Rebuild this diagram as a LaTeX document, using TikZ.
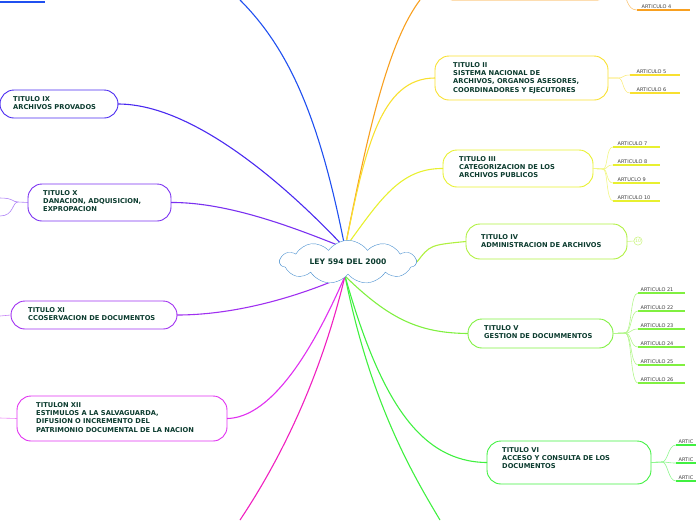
\documentclass[tikz,border=0pt]{standalone}
\usepackage{fontspec}
\setmainfont{DejaVu Sans}
\usetikzlibrary{shapes.symbols,calc}
\definecolor{txt}{HTML}{0B3B2E}
\definecolor{cB}{HTML}{2050F0}
\definecolor{cO}{HTML}{F8A020}
\definecolor{cY}{HTML}{F8E030}
\definecolor{cYG}{HTML}{E8F030}
\definecolor{cLG}{HTML}{B0F040}
\definecolor{cG}{HTML}{80F040}
\definecolor{cGG}{HTML}{40F040}
\definecolor{cIX}{HTML}{4A2AF0}
\definecolor{cX}{HTML}{7A30F0}
\definecolor{cXI}{HTML}{A030F0}
\definecolor{cXII}{HTML}{E030F0}
\definecolor{cM}{HTML}{F020C0}
\definecolor{cloudc}{HTML}{4A90D0}
\begin{document}
\begin{tikzpicture}[x=1pt,y=-1pt,
  tit/.style={font=\bfseries\fontsize{6.7}{8.4}\selectfont,text=txt,align=left,anchor=north west,inner sep=0pt},
  art/.style={font=\fontsize{5}{5.5}\selectfont,text=black!75,anchor=south west,inner sep=1.5pt},
  ul/.style={draw=#1,line width=1.2pt},
  br/.style={draw=#1,line width=1.1pt},
  sb/.style={draw=#1!60,line width=0.6pt},
  cl/.style={cloud,cloud puffs=11,cloud puff arc=110,aspect=3.8,draw=cloudc,fill=white,minimum width=136pt,minimum height=38pt,inner sep=0pt,font=\bfseries\fontsize{7.6}{9}\selectfont,text=txt}]
\useasboundingbox (0,0) rectangle (696,520);
\node[cl] (c) at (348,262) {};
\newcommand{\tbox}[6]{%
  \draw[draw=#2,line width=0.9pt,rounded corners=14pt] (#3,#4) rectangle (#5,#6);
  \coordinate (#1L) at (#3,{(#4+#6)/2}); \coordinate (#1R) at (#5,{(#4+#6)/2});}
\tbox{t1}{cO}{440}{-30}{610}{0}
\tbox{t2}{cY}{435}{56}{608}{100}
\tbox{t3}{cYG}{443}{150}{593}{187}
\tbox{t4}{cLG}{466}{224}{627}{259}
\tbox{t5}{cG}{468}{319}{613}{348}
\tbox{t6}{cGG}{487}{441}{651}{484}
\tbox{t9}{cIX}{0}{90}{118}{118}
\tbox{t10}{cX}{28}{184}{171}{221}
\tbox{t11}{cXI}{11}{301}{177}{329}
\tbox{t12}{cXII}{17}{396}{227}{441}
\node[tit] (n2) at (453,62) {TITULO II\\SISTEMA NACIONAL DE\\ARCHIVOS, ORGANOS ASESORES,\\COORDINADORES Y EJECUTORES};
\node[tit] (n3) at (459,156) {TITULO III\\CATEGORIZACION DE LOS\\ARCHIVOS PUBLICOS};
\node[tit] (n4) at (481,234) {TITULO IV\\ADMINISTRACION DE ARCHIVOS};
\node[tit] (n5) at (484,325) {TITULO V\\GESTION DE DOCUMMENTOS};
\node[tit] (n6) at (502,447) {TITULO VI\\ACCESO Y CONSULTA DE LOS\\DOCUMENTOS};
\node[tit] (n9) at (13,96) {TITULO IX\\ARCHIVOS PROVADOS};
\node[tit] (n10) at (43,190) {TITULO X\\DANACION, ADQUISICION,\\EXPROPACION};
\node[tit] (n11) at (28,307) {TITULO XI\\CCOSERVACION DE DOCUMENTOS};
\node[tit] (n12) at (36,402) {TITULON XII\\ESTIMULOS A LA SALVAGUARDA,\\DIFUSION O INCREMENTO DEL\\PATRIMONIO DOCUMENTAL DE LA NACION};
\coordinate (cc) at (345,248);
\coordinate (cb) at (345,276);
\coordinate (eB) at (240,0); \coordinate (eO) at (420,0);
\coordinate (eG) at (440,520); \coordinate (eM) at (240,520);
\draw[br=cB] (cc) .. controls (320,120) and (290,50) .. (eB);
\draw[br=cO] (cc) .. controls (370,120) and (390,40) .. (eO);
\draw[br=cY] (cc) .. controls (365,150) and (380,78) .. (t2L);
\draw[br=cYG] (cc) .. controls (380,200) and (400,168) .. (t3L);
\draw[br=cLG] (c.east) .. controls (430,245) .. (t4L);
\draw[br=cG] (cb) .. controls (390,320) and (420,333) .. (t5L);
\draw[br=cGG] (cb) .. controls (380,400) and (420,462) .. (t6L);
\draw[br=cGG] (cb) .. controls (370,400) and (410,470) .. (eG);
\draw[br=cIX] (cc) .. controls (300,200) and (200,104) .. (t9R);
\draw[br=cX] (cc) .. controls (300,230) and (230,202) .. (t10R);
\draw[br=cXI] (cb) .. controls (290,300) and (230,315) .. (t11R);
\draw[br=cXII] (cb) .. controls (300,380) and (260,418) .. (t12R);
\draw[br=cM] (cb) .. controls (320,380) and (280,460) .. (eM);
\draw[ul=cB] (0,2) -- (45,2);
\node[art] (a4) at (640,10) {ARTICULO 4};
\draw[ul=cO] (637,10) -- (690,10);
\draw[sb=cO] (622,-5) .. controls (628,-5) and (626,10) .. (637,10);
\foreach \n/\y in {5/75,6/93}{
  \node[art] at (635,\y) {ARTICULO \n};
  \draw[ul=cY] (630,\y) -- (680,\y);
  \draw[sb=cY] (t2R) -- (618,78) .. controls (624,78) and (622,\y) .. (630,\y);}
\foreach \n/\y in {7/147,8/165,9/183,10/201}{
  \node[art] at (616,\y) {\ifnum\n=9 ARTUCLO 9\else ARTICULO \n\fi};
  \draw[ul=cYG] (613,\y) -- (660,\y);
  \draw[sb=cYG] (t3R) -- (603,169) .. controls (608,169) and (606,\y) .. (613,\y);}
\draw[sb=cLG] (t4R) -- (634,241);
\node[circle,draw=cLG!70,line width=0.5pt,inner sep=0.6pt,font=\fontsize{4.5}{5}\selectfont,text=cLG!80] (k) at (638,241) {10};
\foreach \n/\y in {21/293,22/311,23/329,24/347,25/365,26/383}{
  \node[art] at (639,\y) {ARTICULO \n};
  \draw[ul=cG] (638,\y) -- (685,\y);
  \draw[sb=cG] (t5R) -- (625,333) .. controls (632,333) and (630,\y) .. (638,\y);}
\foreach \y in {445,463,481}{
  \node[art] at (677,\y) {ARTIC};
  \draw[ul=cGG] (676,\y) -- (696,\y);
  \draw[sb=cGG] (t6R) -- (662,462) .. controls (668,462) and (668,\y) .. (676,\y);}
\draw[sb=cX] (t10L) -- (18,202) .. controls (12,202) and (14,198) .. (0,198);
\draw[sb=cX] (18,202) .. controls (12,202) and (14,216) .. (0,216);
\draw[sb=cXI] (t11L) -- (0,316);
\draw[sb=cXII] (t12L) -- (0,418);
\node[cl] at (348,262) {LEY 594 DEL 2000};
\end{tikzpicture}
\end{document}
